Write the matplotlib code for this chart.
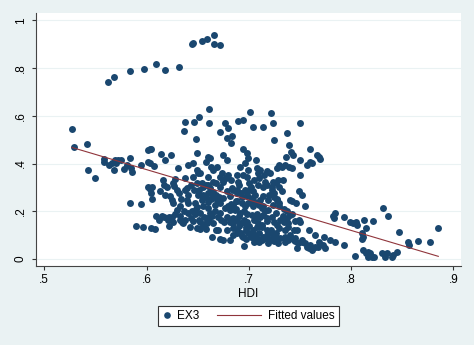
import numpy as np
import matplotlib
matplotlib.use("Agg")
import matplotlib.pyplot as plt
from matplotlib.lines import Line2D
from matplotlib.legend_handler import HandlerLine2D

# ---- data: HDI (x) and EX3 (y), grouped by HDI band ----
hdi_a = [0.644, 0.645, 0.6545, 0.659, 0.666, 0.6663, 0.6718, 0.5626, 0.5685, 0.5838, 0.5971, 0.6089, 0.6183, 0.632]
ex3_a = [0.901, 0.905, 0.912, 0.922, 0.938, 0.899, 0.898, 0.743, 0.762, 0.789, 0.797, 0.817, 0.794, 0.806]

hdi_b = [0.527, 0.5293, 0.5414, 0.5427, 0.5499, 0.5584, 0.5587, 0.5636, 0.5659, 0.5678, 0.5691, 0.5704,
         0.5724, 0.5747, 0.5776, 0.5812, 0.5838, 0.5844, 0.5857, 0.5841, 0.5949, 0.5949, 0.5897, 0.5962]
ex3_b = [0.545, 0.471, 0.484, 0.375, 0.340, 0.406, 0.420, 0.392, 0.401, 0.372, 0.415, 0.403,
         0.415, 0.415, 0.378, 0.392, 0.424, 0.383, 0.365, 0.236, 0.231, 0.392, 0.140, 0.136]

hdi_c = [0.601, 0.6037, 0.6047, 0.601, 0.603, 0.6069, 0.6017, 0.6033, 0.605, 0.604, 0.605, 0.6047, 0.6086,
         0.6095, 0.6144, 0.618, 0.616, 0.6173, 0.6131, 0.6167, 0.6206, 0.6219, 0.6242, 0.6229, 0.6249,
         0.6262, 0.6275, 0.6268, 0.6222, 0.6294, 0.6327, 0.631, 0.6317, 0.6327, 0.635, 0.6376, 0.6363,
         0.6376, 0.6245, 0.6262, 0.6356, 0.6376]
ex3_c = [0.457, 0.460, 0.462, 0.407, 0.404, 0.390, 0.302, 0.292, 0.301, 0.276, 0.250, 0.129, 0.124,
         0.180, 0.438, 0.415, 0.331, 0.310, 0.283, 0.178, 0.164, 0.178, 0.435, 0.262, 0.248,
         0.234, 0.334, 0.304, 0.138, 0.206, 0.220, 0.380, 0.278, 0.180, 0.157, 0.338, 0.538,
         0.576, 0.178, 0.157, 0.150, 0.164]

hdi_d = [0.6392, 0.6402, 0.6408, 0.6425, 0.6434, 0.6467, 0.6509, 0.6483, 0.6496, 0.6408, 0.6457, 0.649,
         0.6522, 0.6539, 0.6516, 0.649, 0.6392, 0.6474, 0.6496, 0.6522, 0.656, 0.6516, 0.6522]
ex3_d = [0.248, 0.234, 0.192, 0.136, 0.171, 0.576, 0.594, 0.502, 0.446, 0.394, 0.401, 0.373,
         0.359, 0.320, 0.290, 0.317, 0.297, 0.234, 0.217, 0.192, 0.178, 0.164, 0.124]

hdi_e = [0.6614, 0.661, 0.66, 0.662, 0.658, 0.6626, 0.6653, 0.6685, 0.66, 0.658, 0.6653, 0.662, 0.6604,
         0.6555, 0.6539, 0.6653, 0.6685, 0.6669, 0.6604, 0.662, 0.6588, 0.6594, 0.6653, 0.6636, 0.6679, 0.6702]
ex3_e = [0.628, 0.572, 0.429, 0.422, 0.408, 0.387, 0.373, 0.387, 0.345, 0.310, 0.324, 0.297, 0.276,
         0.269, 0.248, 0.262, 0.248, 0.227, 0.213, 0.192, 0.171, 0.150, 0.150, 0.091, 0.122, 0.122]

hdi_f = [0.6718, 0.677, 0.68, 0.6783, 0.6839, 0.6822, 0.6751, 0.6783, 0.6718, 0.6734, 0.6751, 0.68,
         0.6822, 0.6718, 0.6783, 0.6832, 0.6751, 0.6816, 0.6718, 0.6767, 0.6816, 0.6848, 0.6718, 0.6783,
         0.6816, 0.6848, 0.6783, 0.6718, 0.6751, 0.6816, 0.6848, 0.6881]
ex3_f = [0.534, 0.569, 0.548, 0.506, 0.516, 0.485, 0.436, 0.415, 0.345, 0.359, 0.324, 0.352,
         0.331, 0.303, 0.283, 0.297, 0.255, 0.262, 0.234, 0.213, 0.206, 0.227, 0.192, 0.178,
         0.157, 0.150, 0.122, 0.083, 0.080, 0.080, 0.101, 0.108]

hdi_g = [0.6897, 0.6946, 0.6946, 0.6979, 0.6995, 0.6962, 0.6913, 0.6881, 0.6897, 0.6946, 0.6979, 0.6995,
         0.6888, 0.692, 0.6962, 0.6985, 0.6881, 0.693, 0.6865, 0.6913, 0.6962, 0.6995, 0.6881, 0.6913,
         0.6946, 0.6972, 0.6888, 0.692, 0.6946, 0.6953, 0.6995]
ex3_g = [0.580, 0.583, 0.460, 0.443, 0.422, 0.401, 0.387, 0.352, 0.324, 0.352, 0.345, 0.373,
         0.289, 0.278, 0.289, 0.262, 0.241, 0.234, 0.206, 0.192, 0.220, 0.234, 0.164, 0.147,
         0.157, 0.136, 0.122, 0.108, 0.091, 0.055, 0.108]

hdi_h = [0.7011, 0.7037, 0.707, 0.7076, 0.7093, 0.7018, 0.7044, 0.706, 0.7093, 0.7109, 0.7018, 0.7044,
         0.707, 0.7109, 0.7027, 0.705, 0.7083, 0.7044, 0.7076, 0.7018, 0.705, 0.7093]
ex3_h = [0.615, 0.555, 0.415, 0.380, 0.359, 0.303, 0.283, 0.269, 0.310, 0.373, 0.241, 0.220,
         0.234, 0.248, 0.185, 0.164, 0.178, 0.122, 0.133, 0.091, 0.073, 0.083]

hdi_i = [0.7142, 0.7217, 0.724, 0.7246, 0.7158, 0.7174, 0.7142, 0.7207, 0.7223, 0.7246, 0.7142, 0.719,
         0.7233, 0.7142, 0.719, 0.724, 0.7142, 0.7174, 0.7223, 0.7125, 0.7174, 0.7214, 0.724, 0.7142, 0.719]
ex3_i = [0.552, 0.611, 0.569, 0.499, 0.324, 0.310, 0.303, 0.359, 0.289, 0.276, 0.262, 0.248,
         0.324, 0.220, 0.206, 0.227, 0.185, 0.171, 0.178, 0.143, 0.122, 0.108, 0.094, 0.091, 0.066]

hdi_j = [0.7272, 0.7298, 0.7321, 0.7288, 0.7298, 0.7321, 0.7272, 0.7298, 0.7265, 0.7305, 0.725, 0.7272,
         0.7265, 0.7305, 0.7281, 0.7337, 0.737, 0.7396, 0.7409, 0.7429, 0.7363, 0.7353, 0.7396, 0.7419,
         0.74, 0.7425, 0.7465, 0.7347, 0.7373, 0.7405, 0.7379, 0.7438, 0.7471, 0.7356, 0.7405, 0.7438, 0.7471]
ex3_j = [0.380, 0.394, 0.387, 0.331, 0.303, 0.283, 0.248, 0.234, 0.192, 0.164, 0.157, 0.143,
         0.094, 0.087, 0.066, 0.331, 0.527, 0.478, 0.450, 0.436, 0.429, 0.394, 0.387, 0.380,
         0.248, 0.241, 0.234, 0.157, 0.171, 0.185, 0.136, 0.122, 0.122, 0.091, 0.087, 0.080, 0.045]

hdi_k = [0.7503, 0.7497, 0.7487, 0.752, 0.7487, 0.7503, 0.7503, 0.7552, 0.7585, 0.752, 0.7552, 0.7601,
         0.7568, 0.7594, 0.7617, 0.7666, 0.7682, 0.7692, 0.7585, 0.7617, 0.765, 0.765, 0.7682, 0.7731,
         0.7747, 0.7796, 0.7845, 0.7826, 0.7842, 0.7836]
ex3_k = [0.572, 0.352, 0.283, 0.269, 0.164, 0.157, 0.415, 0.220, 0.122, 0.080, 0.066, 0.460,
         0.394, 0.408, 0.401, 0.436, 0.429, 0.418, 0.045, 0.038, 0.049, 0.101, 0.073, 0.091,
         0.045, 0.080, 0.073, 0.180, 0.192, 0.171]

hdi_l = [0.7926, 0.7926, 0.7989, 0.8022, 0.8048, 0.8061, 0.8038, 0.8103, 0.8119, 0.8109, 0.8129, 0.8142,
         0.8119, 0.8145, 0.8168, 0.8184, 0.82, 0.8223, 0.821, 0.8168, 0.8298, 0.8331, 0.8347, 0.8314,
         0.8363, 0.8396, 0.8412, 0.8451, 0.847, 0.856, 0.857, 0.8658, 0.8772, 0.8853]
ex3_l = [0.175, 0.059, 0.157, 0.150, 0.157, 0.143, 0.013, 0.108, 0.091, 0.083, 0.164, 0.131,
         0.038, 0.024, 0.010, 0.024, 0.010, 0.010, 0.161, 0.031, 0.024, 0.010, 0.024, 0.213,
         0.180, 0.010, 0.017, 0.031, 0.112, 0.073, 0.059, 0.076, 0.070, 0.129]

# dense core of the cloud
hdi_m1 = [0.700, 0.698, 0.703, 0.706, 0.710, 0.713, 0.716, 0.708, 0.711, 0.718, 0.709, 0.713, 0.700, 0.697, 0.702,
          0.706, 0.710, 0.716, 0.720, 0.725, 0.735, 0.738, 0.745, 0.748, 0.752, 0.757, 0.760, 0.763, 0.768, 0.773]
ex3_m1 = [0.29, 0.27, 0.255, 0.24, 0.228, 0.215, 0.2, 0.19, 0.175, 0.16, 0.15, 0.135, 0.14, 0.12, 0.105,
          0.1, 0.11, 0.09, 0.08, 0.075, 0.07, 0.08, 0.075, 0.065, 0.07, 0.05, 0.06, 0.045, 0.05, 0.06]

hdi_m2 = [0.685, 0.688, 0.693, 0.687, 0.683, 0.680, 0.687, 0.695, 0.698, 0.690, 0.685, 0.695, 0.698, 0.690,
          0.685, 0.693, 0.697, 0.705, 0.710, 0.713, 0.718, 0.722, 0.727, 0.730, 0.735, 0.740, 0.745]
ex3_m2 = [0.29, 0.275, 0.26, 0.245, 0.23, 0.22, 0.21, 0.2, 0.19, 0.18, 0.17, 0.165, 0.155, 0.14,
          0.13, 0.095, 0.085, 0.09, 0.07, 0.08, 0.1, 0.12, 0.11, 0.13, 0.12, 0.1, 0.09]

hdi_m3 = [0.665, 0.668, 0.671, 0.663, 0.660, 0.667, 0.664, 0.670, 0.673, 0.676, 0.661, 0.656, 0.652, 0.647,
          0.644, 0.648, 0.655, 0.658, 0.650, 0.646, 0.655, 0.660, 0.668, 0.675, 0.678, 0.690, 0.700, 0.705,
          0.710, 0.715, 0.718]
ex3_m3 = [0.28, 0.27, 0.26, 0.25, 0.24, 0.2, 0.18, 0.175, 0.165, 0.155, 0.16, 0.145, 0.155, 0.19,
          0.2, 0.21, 0.22, 0.26, 0.27, 0.29, 0.3, 0.31, 0.32, 0.33, 0.34, 0.31, 0.32, 0.33,
          0.34, 0.35, 0.37]

hdi_m4 = [0.730, 0.734, 0.737, 0.742, 0.733, 0.738, 0.745, 0.728, 0.725, 0.720, 0.723, 0.727]
ex3_m4 = [0.22, 0.21, 0.2, 0.19, 0.18, 0.15, 0.16, 0.25, 0.26, 0.27, 0.3, 0.32]

hdi_m5 = [0.628, 0.633, 0.637, 0.641, 0.643, 0.638, 0.634, 0.630, 0.626, 0.620, 0.618, 0.615, 0.612,
          0.645, 0.649, 0.655, 0.658, 0.645, 0.650]
ex3_m5 = [0.19, 0.165, 0.2, 0.27, 0.31, 0.29, 0.25, 0.29, 0.32, 0.30, 0.27, 0.18, 0.165,
          0.16, 0.13, 0.14, 0.125, 0.345, 0.36]

# linear fit of EX3 on HDI
fit_intercept = 1.139
fit_slope = -1.274

x_ticks = [0.5, 0.6, 0.7, 0.8, 0.9]
x_ticklabels = [".5", ".6", ".7", ".8", ".9"]
y_ticks = [0, 0.2, 0.4, 0.6, 0.8, 1.0]
y_ticklabels = ["0", ".2", ".4", ".6", ".8", "1"]

hdi = np.concatenate([hdi_a, hdi_b, hdi_c, hdi_d, hdi_e, hdi_f, hdi_g, hdi_h, hdi_i, hdi_j, hdi_k, hdi_l,
                      hdi_m1, hdi_m2, hdi_m3, hdi_m4, hdi_m5])
ex3 = np.concatenate([ex3_a, ex3_b, ex3_c, ex3_d, ex3_e, ex3_f, ex3_g, ex3_h, ex3_i, ex3_j, ex3_k, ex3_l,
                      ex3_m1, ex3_m2, ex3_m3, ex3_m4, ex3_m5])

NAVY = "#1a476f"
MAROON = "#90353b"
BG = "#eaf2f3"

plt.rcParams["font.family"] = ["Liberation Sans", "DejaVu Sans"]
plt.rcParams["font.size"] = 8.5

fig = plt.figure(figsize=(4.74, 3.45), dpi=100)
fig.patch.set_facecolor(BG)
ax = fig.add_axes([36 / 474, 79 / 345, 424.7 / 474, 253 / 345])
ax.set_facecolor("white")

ax.scatter(hdi, ex3, s=25, color=NAVY, linewidths=0, zorder=3)
fx = np.array([hdi.min(), hdi.max()])
ax.plot(fx, fit_intercept + fit_slope * fx, color=MAROON, lw=0.8, zorder=4)

ax.set_xlim(0.4919, 0.9072)
ax.set_ylim(-0.0294, 1.031)
ax.set_xticks(x_ticks)
ax.set_xticklabels(x_ticklabels)
ax.set_yticks(y_ticks)
ax.set_yticklabels(y_ticklabels, rotation=90, va="center")
ax.tick_params(axis="both", direction="out", length=3, width=0.8, color="#333333", labelcolor="black")
ax.tick_params(axis="x", pad=3)
ax.tick_params(axis="y", pad=3.5)
ax.yaxis.grid(True, color=BG, lw=0.8)
ax.xaxis.grid(False)
ax.set_axisbelow(True)
for side in ("top", "right"):
    ax.spines[side].set_visible(False)
for side in ("left", "bottom"):
    ax.spines[side].set_color("#444444")
    ax.spines[side].set_linewidth(0.8)
ax.set_xlabel("HDI", labelpad=1)


class LeftReachingLine(HandlerLine2D):
    """Legend key whose line extends to the left of its handle box."""
    def create_artists(self, legend, orig_handle, xdescent, ydescent, width, height, fontsize, trans):
        y = height / 2 - ydescent
        x1 = width - xdescent - 0.25 * fontsize
        x0 = x1 - 3.7 * fontsize
        line = Line2D([x0, x1], [y, y])
        self.update_prop(line, orig_handle, legend)
        line.set_transform(trans)
        return [line]


h_pts = Line2D([], [], ls="none", marker="o", ms=4.8, color=NAVY, mew=0)
h_fit = Line2D([], [], color=MAROON, lw=0.8)
leg = fig.legend([h_pts, h_fit], ["EX3", "Fitted values"], loc="center",
                 bbox_to_anchor=(248.5 / 474, 1 - 316 / 345), ncol=2, frameon=True,
                 fancybox=False, edgecolor="#333333", framealpha=1, facecolor="white",
                 handlelength=0.9, handletextpad=0.4, columnspacing=4.5, borderpad=0.35,
                 numpoints=1, handler_map={h_fit: LeftReachingLine()})
leg.get_frame().set_linewidth(0.8)

fig.savefig("out.png", dpi=100, facecolor=BG)
